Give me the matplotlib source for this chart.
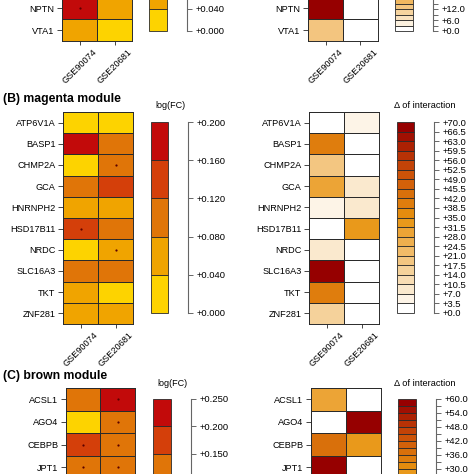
import matplotlib
matplotlib.use("Agg")
import matplotlib.pyplot as plt
import numpy as np
from matplotlib.colors import ListedColormap, BoundaryNorm, LinearSegmentedColormap
from matplotlib.transforms import ScaledTranslation

plt.rcParams['font.family'] = ['Liberation Sans', 'DejaVu Sans']

# ---------------- data ----------------
datasets = ["GSE90074", "GSE20681"]

genes_a = ["NPTN", "VTA1"]
logfc_a = [[0.19, 0.06], [0.06, 0.02]]
delta_a = [[46.0, 0.0], [13.0, 0.0]]
dots_a = [[1, 0], [0, 0]]

genes_b = ["ATP6V1A", "BASP1", "CHMP2A", "GCA", "HNRNPH2", "HSD17B11",
           "NRDC", "SLC16A3", "TKT", "ZNF281"]
logfc_b = [[0.02, 0.02], [0.18, 0.10], [0.02, 0.10], [0.10, 0.14], [0.06, 0.06],
           [0.14, 0.10], [0.02, 0.06], [0.10, 0.10], [0.06, 0.02], [0.06, 0.06]]
delta_b = [[0, 5], [41, 0], [19, 0], [29, 9], [5, 9],
           [0, 32], [9, 0], [67, 0], [40, 0], [15, 0]]
dots_b = [[0, 0], [0, 0], [0, 1], [0, 0], [0, 0],
          [1, 0], [0, 1], [0, 0], [0, 0], [0, 0]]

genes_c = ["ACSL1", "AGO4", "CEBPB", "JPT1"]
logfc_c = [[0.13, 0.23], [0.03, 0.13], [0.18, 0.13], [0.13, 0.13]]
delta_c = [[25, 0], [0, 58], [37, 28], [58, 0]]
dots_c = [[0, 1], [0, 1], [1, 1], [1, 1]]

# legend scales: (max, block step, tick step, label step)
fc_scale_a = (0.20, 0.04, 0.04, 0.04)
dl_scale_a = (48.0, 3.0, 3.0, 6.0)
fc_scale_b = (0.20, 0.04, 0.04, 0.04)
dl_scale_b = (70.0, 3.5, 3.5, 3.5)
fc_scale_c = (0.25, 0.05, 0.05, 0.05)
dl_scale_c = (60.0, 3.0, 3.0, 6.0)

fc_anchor = ["#FDD300", "#F0A400", "#E07508", "#D4400A", "#C20A0A"]
dl_anchor = [(0.0, "#FFFFFF"), (0.5, "#E8930F"), (0.75, "#CC5008"), (1.0, "#960000")]

# ---------------- figure ----------------
W = H = 474
fig = plt.figure(figsize=(4.74, 4.74), dpi=100)
PT = 72 / 100.0  # points per pixel

fc_cmap = LinearSegmentedColormap.from_list("fc", fc_anchor)
dl_cmap = LinearSegmentedColormap.from_list("dl", dl_anchor)


def add_px(x0, y0, x1, y1):
    return fig.add_axes([x0 / W, 1 - y1 / H, (x1 - x0) / W, (y1 - y0) / H])


def block_colors(cmap, n):
    return [cmap(i / (n - 1)) for i in range(n)]


def heatmap(box, vals, genes, scale, cmap, dots, xlabels=True):
    vmax, step = scale[0], scale[1]
    n = int(round(vmax / step))
    edges = np.linspace(0, vmax, n + 1)
    cols = block_colors(cmap, n)
    ax = add_px(*box)
    vals = np.asarray(vals, dtype=float)
    nr = vals.shape[0]
    ax.pcolormesh(np.arange(3), np.arange(nr + 1), vals,
                  cmap=ListedColormap(cols), norm=BoundaryNorm(edges, n),
                  edgecolors="#2a2a2a", linewidth=0.6)
    dots = np.asarray(dots)
    rr, cc = np.nonzero(dots)
    ax.plot(cc + 0.5, rr + 0.5, "o", ms=1.6, color="#5a0000", mec="none")
    ax.set_xlim(0, 2)
    ax.set_ylim(nr, 0)
    ax.set_yticks(np.arange(nr) + 0.5, genes)
    ax.tick_params(axis="y", length=5 * PT, width=0.7, color="#444",
                   pad=2.5 * PT, labelsize=6.6)
    for s in ax.spines.values():
        s.set_color("#2a2a2a")
        s.set_linewidth(0.7)
    if xlabels:
        ax.set_xticks([0.5, 1.5], datasets, rotation=45, ha="right", va="top",
                      rotation_mode="anchor")
        ax.tick_params(axis="x", length=4 * PT, width=0.7, color="#444",
                       pad=2 * PT, labelsize=6.6)
        off = ScaledTranslation(0.13, 0, fig.dpi_scale_trans)
        for lab in ax.get_xticklabels():
            lab.set_transform(lab.get_transform() + off)
    else:
        ax.set_xticks([])
    return ax


def legend_bar(box, scale, cmap, fmt, ymin_px=-5, ymax_px=480):
    vmax, step, tstep, lstep = scale
    n = int(round(vmax / step))
    edges = np.linspace(0, vmax, n + 1)
    cols = block_colors(cmap, n)
    ax = add_px(*box)
    ax.bar(0.5, np.diff(edges), bottom=edges[:-1], width=1.0, color=cols,
           edgecolor="#2a2a2a", linewidth=0.6, clip_on=False)
    ax.set_xlim(0, 1)
    ax.set_ylim(0, vmax)
    ax.set_xticks([])
    for k in ("left", "top", "bottom"):
        ax.spines[k].set_visible(False)
    ax.spines["right"].set_position(("outward", 20 * PT))
    ax.spines["right"].set_color("#666")
    ax.spines["right"].set_linewidth(0.8)
    ax.yaxis.tick_right()
    x0, y0, x1, y1 = box
    nt = int(round(vmax / tstep))
    ticks, labels = [], []
    for i in range(nt + 1):
        v = i * tstep
        ypx = y1 - (y1 - y0) * v / vmax
        if ymin_px <= ypx <= ymax_px:
            ticks.append(v)
            r = v / lstep
            labels.append(fmt.format(v) if abs(r - round(r)) < 1e-6 else "")
    ax.set_yticks(ticks, labels)
    ax.tick_params(axis="y", length=4.5 * PT, width=0.7, color="#666",
                   pad=4.5 * PT, labelsize=6.8)
    return ax


# ---- (A) cropped section ----
heatmap((62, -3, 132, 41), logfc_a, genes_a, fc_scale_a, fc_cmap, dots_a)
heatmap((308, -3, 378, 41), delta_a, genes_a, dl_scale_a, dl_cmap,
        np.zeros((2, 2), int))
legend_bar((149, 31 - 0.20 * 550, 167, 31), fc_scale_a, fc_cmap, "+{:.3f}", ymin_px=3)
legend_bar((395, 31 - 48 * 22 / 12, 413, 31), dl_scale_a, dl_cmap, "+{:.1f}", ymin_px=3)

# ---- (B) magenta module ----
fig.text(3 / W, 1 - 99 / H, "(B) magenta module", fontsize=8.8, fontweight="bold",
         ha="left", va="center")
heatmap((63, 112, 133, 324), logfc_b, genes_b, fc_scale_b, fc_cmap, dots_b)
heatmap((309, 112, 379, 324), delta_b, genes_b, dl_scale_b, dl_cmap,
        np.zeros((10, 2), int))
legend_bar((151, 122, 168, 313), fc_scale_b, fc_cmap, "+{:.3f}")
legend_bar((397, 122, 414, 313), dl_scale_b, dl_cmap, "+{:.1f}")
fig.text(170 / W, 1 - 105 / H, "log(FC)", fontsize=6.5, ha="center", va="center")
fig.text(425 / W, 1 - 105 / H, "\u0394 of interaction", fontsize=6.7,
         ha="center", va="center")

# ---- (C) brown module ----
fig.text(3 / W, 1 - 376 / H, "(C) brown module", fontsize=8.8, fontweight="bold",
         ha="left", va="center")
heatmap((66, 388, 135, 388 + 4 * 22.6), logfc_c, genes_c, fc_scale_c, fc_cmap,
        dots_c, xlabels=False)
heatmap((311, 388, 381, 388 + 4 * 22.6), delta_c, genes_c, dl_scale_c, dl_cmap,
        np.zeros((4, 2), int), xlabels=False)
legend_bar((153, 399, 171, 399 + 0.25 * 546), fc_scale_c, fc_cmap, "+{:.3f}",
           ymax_px=470)
legend_bar((398, 399, 416, 399 + 60 * 14 / 6), dl_scale_c, dl_cmap, "+{:.1f}",
           ymax_px=470)
fig.text(172 / W, 1 - 384 / H, "log(FC)", fontsize=6.5, ha="center", va="center")
fig.text(425 / W, 1 - 383 / H, "\u0394 of interaction", fontsize=6.7,
         ha="center", va="center")

fig.savefig("out.png", dpi=100)
